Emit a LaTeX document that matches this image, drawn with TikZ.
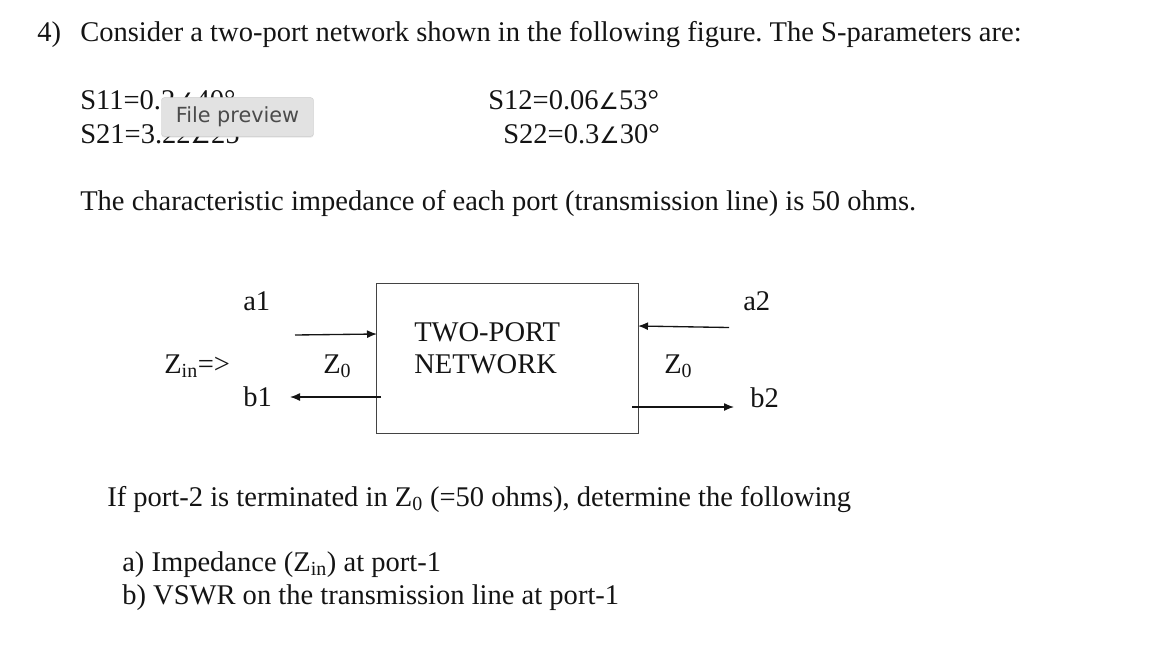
\documentclass[tikz,border=0pt]{standalone}
\usepackage{fontspec}
\setmainfont{Liberation Serif}
\newfontfamily\tipfont{DejaVu Sans}
\usepackage{tikz}
\usetikzlibrary{arrows.meta, shadows}
\definecolor{inkgray}{RGB}{20,20,20}
\definecolor{tipgray}{RGB}{226,226,226}
\definecolor{tiptext}{RGB}{75,75,75}
\newcommand{\ang}{{\tipfont\fontsize{17}{20}\selectfont ∠}}
\frenchspacing
\tikzset{
  txt/.style={anchor=base west, inner sep=0pt, text=inkgray, font=\fontsize{21.4}{25}\selectfont},
  sig/.style={-{Latex[length=7.5pt,width=6pt]}, line width=1pt, draw=inkgray},
}
\begin{document}
\begin{tikzpicture}[x=0.75pt,y=-0.75pt]
    \useasboundingbox (0,0) rectangle (1156,646);
    % question text
    \node[txt] (num) at (37,41) {4)};
    \node[txt] (title) at (80,41) {Consider a two-port network shown in the following figure. The S-parameters are:};
    \node[txt] (s11) at (80,109) {S11=0.2\ang 40°};
    \node[txt] (s12) at (488,109) {S12=0.06\ang 53°};
    \node[txt] (s21) at (80,143) {S21=3.22\ang 25};
    \node[txt] (s22) at (503,143) {S22=0.3\ang 30°};
    \node[txt] (zchar) at (80,210) {The characteristic impedance of each port (transmission line) is 50 ohms.};
    % network
    \node[draw=inkgray!80, line width=0.7pt, minimum width=196pt, minimum height=112.5pt, inner sep=0pt] (net) at (507.5,358) {};
    \node[txt] (two) at (414,341) {TWO-PORT};
    \node[txt] (work) at (414,373) {NETWORK};
    % labels
    \node[txt] (a1) at (243,310) {a1};
    \node[txt] (b1) at (243,406) {b1};
    \node[txt] (a2) at (743,310) {a2};
    \node[txt] (b2) at (750,407) {b2};
    \node[txt] (zin) at (164,373) {Z\textsubscript{in}=>};
    \node[txt] (z1) at (323,373) {Z\textsubscript{0}};
    \node[txt] (z2) at (664,373) {Z\textsubscript{0}};
    % signal lines
    \coordinate (a1s) at (295,335);
    \coordinate (a1e) at (377,334);
    \coordinate (b1s) at (381,397);
    \coordinate (b1e) at (290,397);
    \coordinate (a2s) at (729,327.5);
    \coordinate (a2e) at (638,326);
    \coordinate (b2s) at (632,407);
    \coordinate (b2e) at (734,407);
    \draw[sig] (a1s) -- (a1e);
    \draw[sig] (b1s) -- (b1e);
    \draw[sig] (a2s) -- (a2e);
    \draw[sig] (b2s) -- (b2e);
    % lower text
    \node[txt] (ifp) at (107,506) {If port-2 is terminated in Z\textsubscript{0} (=50 ohms), determine the following};
    \node[txt] (qa) at (122,571) {a) Impedance (Z\textsubscript{in}) at port-1};
    \node[txt] (qb) at (122,604) {b) VSWR on the transmission line at port-1};
    % tooltip over the S-parameters
    \node[rounded corners=2pt, fill=tipgray, draw=tipgray!90!black, line width=0.3pt,
      drop shadow={shadow xshift=0pt, shadow yshift=-1pt, opacity=0.18},
      minimum width=114pt, minimum height=29pt, inner sep=0pt, text=tiptext,
      font=\tipfont\fontsize{15.6}{18}\selectfont] (tip) at (237.5,117) {File preview};
\end{tikzpicture}
\end{document}
